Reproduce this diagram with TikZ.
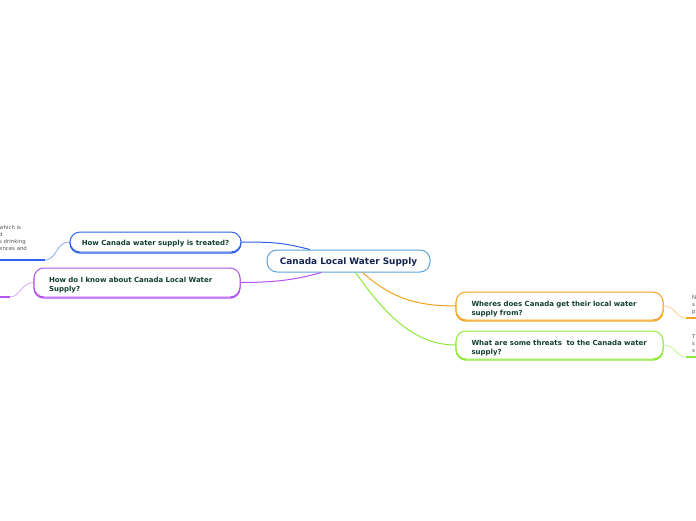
\documentclass[tikz,border=0pt]{standalone}
\usepackage{fontspec}
\setmainfont{DejaVu Sans}
\usetikzlibrary{calc}
\definecolor{txt}{HTML}{123F33}
\definecolor{ctxt}{HTML}{14244F}
\definecolor{cbord}{HTML}{5EA4DC}
\definecolor{cblue}{HTML}{2F62E6}
\definecolor{cblueL}{HTML}{8FAAF5}
\definecolor{cpurp}{HTML}{B452EE}
\definecolor{cpurpL}{HTML}{D9A6F6}
\definecolor{corng}{HTML}{F5A21E}
\definecolor{corngL}{HTML}{FAD29A}
\definecolor{cgrn}{HTML}{8FE83A}
\definecolor{cgrnL}{HTML}{C6F29C}
\definecolor{leaf}{HTML}{555555}
\begin{document}
\begin{tikzpicture}[x=1pt,y=-1pt,
  topic/.style={draw=#1, rounded corners=10pt, fill=white, line width=1pt,
    preaction={draw=#1, line width=1.2pt, rounded corners=10pt, transform canvas={yshift=-1.1pt}},
    font=\fontsize{7}{9}\selectfont\bfseries, text=txt, inner ysep=0pt},
  twoline/.style={text width=176pt, align=left, text height=6pt, text depth=6pt},
  central/.style={draw=cbord, rounded corners=10pt, fill=white, line width=1pt,
    font=\fontsize{8.9}{10}\selectfont\bfseries, text=ctxt, inner sep=0pt,
    minimum width=163pt, minimum height=22pt, text height=7pt, text depth=0pt},
  conn/.style={line width=1pt},
  leafline/.style={line width=0.8pt},
  leafbar/.style={line width=2pt},
  leaftext/.style={font=\fontsize{5.4}{7}\selectfont, text=leaf, align=left, inner sep=0pt}
]
\useasboundingbox (0,0) rectangle (696,520);
\fill[white] (0,0) rectangle (696,520);

% central
\node[central] (c) at (348.5,261) {Canada Local Water Supply};

% topics
\node[topic=cblue, minimum width=171pt, minimum height=20pt, text height=7pt, text depth=0pt] (t1) at (155.5,242) {How Canada water supply is treated?};
\node[topic=cpurp, twoline, minimum width=206pt, minimum height=29pt, inner xsep=15pt] (t2) at (137,282.5) {How do I know about Canada Local Water\\Supply?};
\node[topic=corng, twoline, minimum width=207pt, minimum height=28pt, inner xsep=15.5pt] (t3) at (559.5,306) {Wheres does Canada get their local water\\supply from?};
\node[topic=cgrn, twoline, minimum width=207pt, minimum height=28pt, inner xsep=15.5pt] (t4) at (559.5,345) {What are some threats\ \ to the Canada water\\supply?};

% main connectors
\draw[conn, cblue] (t1.east) .. controls +(38,0) and +(-25,-6) .. ([xshift=-38.5pt]c.north);
\draw[conn, cpurp] (t2.east) .. controls +(40,0) and +(-22,6) .. ([xshift=-27pt]c.south);
\draw[conn, corng] ([xshift=14pt]c.south) .. controls +(25,22) and +(-45,0) .. (t3.west);
\draw[conn, cgrn] ([xshift=7pt]c.south) .. controls +(25,35) and +(-45,0) .. (t4.west);

% leaves
\coordinate (l1) at (45,260); \coordinate (l1e) at (-2,260);
\coordinate (l2) at (10,297); \coordinate (l2e) at (-2,297);
\coordinate (l3) at (686,318); \coordinate (l3e) at (698,318);
\coordinate (l4) at (686,357); \coordinate (l4e) at (698,357);

\draw[leafline, cblueL] (t1.west) .. controls +(-14,0) and +(12,0) .. (l1);
\draw[leafbar, cblue] (l1) -- (l1e);
\draw[leafline, cpurpL] (t2.west) .. controls +(-12,0) and +(10,0) .. (l2);
\draw[leafbar, cpurp] (l2) -- (l2e);
\draw[leafline, corngL] (t3.east) .. controls +(12,0) and +(-10,0) .. (l3);
\draw[leafbar, corng] (l3) -- (l3e);
\draw[leafline, cgrnL] (t4.east) .. controls +(12,0) and +(-10,0) .. (l4);
\draw[leafbar, cgrn] (l4) -- (l4e);

\node[leaftext, anchor=north west] (x1) at (-1,225) {which is\\d\\s drinking\\ences and};
\node[leaftext, anchor=north west] (x3) at (692,295) {N\\s\\p};
\node[leaftext, anchor=north west] (x4) at (692,334) {T\\s\\s};
\end{tikzpicture}
\end{document}
